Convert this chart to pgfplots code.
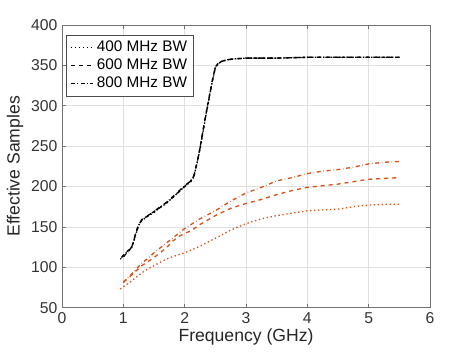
\documentclass[border=0pt]{standalone}
\usepackage{fontspec}
\setmainfont{Liberation Sans}
\usepackage{pgfplots}
\pgfplotsset{compat=1.18}
\definecolor{morange}{rgb}{0.85,0.325,0.098}
\definecolor{mgrid}{gray}{0.88}
\definecolor{maxis}{gray}{0.45}
\begin{document}
\begin{tikzpicture}
\begin{axis}[
  scale only axis,
  width=276pt, height=212pt,
  xmin=0, xmax=6, ymin=50, ymax=400,
  xtick={0,1,...,6}, ytick={50,100,...,400},
  grid=major, major grid style={mgrid, line width=0.5pt},
  axis line style={maxis, line width=0.6pt},
  tick style={maxis, line width=0.5pt},
  tick align=inside, major tick length=3pt,
  tick label style={font=\fontsize{11.8}{13}\selectfont, text=black!80},
  /pgf/number format/assume math mode=true,
  xlabel={Frequency (GHz)}, ylabel={Effective Samples},
  label style={font=\fontsize{13.2}{15}\selectfont, text=black!85},
  xlabel style={yshift=3pt}, ylabel style={yshift=-1pt},
  legend style={at={(0.012,0.965)}, anchor=north west, draw=black!70, font=\fontsize{11.5}{13}\selectfont, row sep=0pt, inner sep=2.5pt},
  legend cell align=left,
]
\addplot[black, dotted, line width=1pt] coordinates {
(0.95,110) (1.0,114) (1.05,118) (1.1,121) (1.15,126) (1.2,140) (1.25,152) (1.3,158) (1.4,163) (1.5,168) (1.6,174) (1.7,179) (1.8,186) (1.9,193) (2.0,200) (2.1,206) (2.15,212) (2.2,228) (2.25,246) (2.3,268) (2.35,290) (2.4,310) (2.45,330) (2.5,347) (2.55,352) (2.6,355) (2.7,357) (2.8,358) (3.0,359) (3.5,359) (4.0,360) (4.5,360) (5.0,360) (5.5,360)};
\addlegendentry{400 MHz BW}
\addplot[black, dashed, line width=1pt] coordinates {
(0.97,112) (1.0,115) (1.05,119) (1.1,122) (1.15,128) (1.2,142) (1.25,153) (1.3,158) (1.4,164) (1.5,169) (1.6,174) (1.7,180) (1.8,186) (1.9,193) (2.0,200) (2.1,207) (2.15,213) (2.2,229) (2.25,248) (2.3,270) (2.35,291) (2.4,311) (2.45,331) (2.5,348) (2.55,353) (2.6,355) (2.7,357) (2.8,358) (3.0,359) (3.5,359) (4.0,360) (4.5,360) (5.0,360) (5.5,360)};
\addlegendentry{600 MHz BW}
\addplot[black, dash dot, line width=1pt] coordinates {
(1.0,113) (1.05,117) (1.1,121) (1.15,127) (1.2,141) (1.25,152) (1.3,159) (1.4,164) (1.5,169) (1.6,175) (1.7,180) (1.8,187) (1.9,194) (2.0,201) (2.1,207) (2.15,213) (2.2,229) (2.25,247) (2.3,269) (2.35,290) (2.4,310) (2.45,330) (2.5,347) (2.55,352) (2.6,355) (2.7,357) (2.8,358) (3.0,359) (3.5,359) (4.0,360) (4.5,360) (5.0,360) (5.5,360)};
\addlegendentry{800 MHz BW}
\addplot[morange, dotted, line width=1pt, forget plot] coordinates {
(0.95,73) (1.0,76) (1.1,81) (1.2,87) (1.3,93) (1.4,98) (1.5,102) (1.6,106) (1.7,110) (1.8,113) (2.0,118) (2.25,126) (2.5,136) (2.75,146) (3.0,154) (3.25,160) (3.5,164) (3.75,167) (4.0,170) (4.25,171) (4.5,172) (4.75,175) (5.0,177) (5.25,178) (5.5,178)};
\addplot[morange, dashed, line width=1pt, forget plot] coordinates {
(1.0,82) (1.1,88) (1.2,95) (1.3,102) (1.4,107) (1.5,112) (1.6,118) (1.7,124) (1.8,132) (1.9,138) (2.0,142) (2.1,145) (2.25,153) (2.5,164) (2.75,173) (3.0,179) (3.25,184) (3.5,190) (3.75,195) (4.0,199) (4.25,201) (4.5,203) (4.75,206) (5.0,209) (5.25,210) (5.5,211)};
\addplot[morange, dash dot, line width=1pt, forget plot] coordinates {
(1.0,81) (1.1,89) (1.2,97) (1.3,105) (1.4,111) (1.5,118) (1.6,124) (1.7,130) (1.8,136) (1.9,142) (2.0,148) (2.25,160) (2.5,170) (2.75,182) (3.0,192) (3.25,199) (3.5,207) (3.75,211) (4.0,216) (4.25,219) (4.5,221) (4.75,224) (5.0,228) (5.25,230) (5.5,231)};
\end{axis}
\path (current axis.south west) ++(-46.5pt,-35.25pt) coordinate (bbA);
\path (current axis.north east) ++(33pt,18.75pt) coordinate (bbB);
\path (bbA) rectangle (bbB);
\end{tikzpicture}
\end{document}
